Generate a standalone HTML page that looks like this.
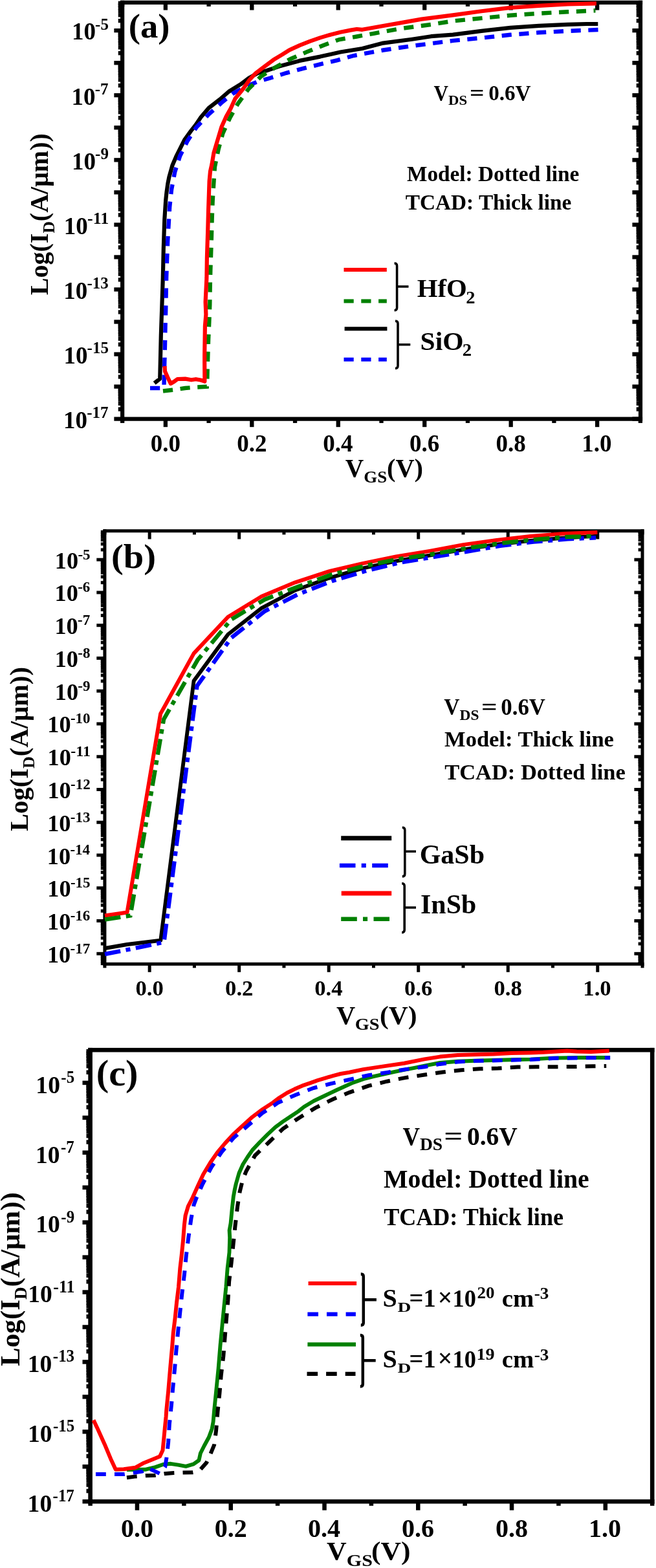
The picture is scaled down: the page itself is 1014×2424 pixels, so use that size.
<!DOCTYPE html>
<html><head><meta charset="utf-8"><style>html,body{margin:0;padding:0;background:#fff;}svg{display:block;}</style></head><body>
<svg width="1014" height="2424" viewBox="0 0 1014 2424" font-family="'Liberation Serif', serif" font-weight="bold">
<rect width="1014" height="2424" fill="#fff"/>
<rect x="186.00" y="649.75" width="6.30" height="4.20" fill="#000"/>
<rect x="186.00" y="6.00" width="6.30" height="4.00" fill="#000"/>
<rect x="252.72" y="649.75" width="6.30" height="10.40" fill="#000"/>
<rect x="252.72" y="6.00" width="6.30" height="9.60" fill="#000"/>
<rect x="319.45" y="649.75" width="6.30" height="4.20" fill="#000"/>
<rect x="319.45" y="6.00" width="6.30" height="4.00" fill="#000"/>
<rect x="386.18" y="649.75" width="6.30" height="10.40" fill="#000"/>
<rect x="386.18" y="6.00" width="6.30" height="9.60" fill="#000"/>
<rect x="452.90" y="649.75" width="6.30" height="4.20" fill="#000"/>
<rect x="452.90" y="6.00" width="6.30" height="4.00" fill="#000"/>
<rect x="519.62" y="649.75" width="6.30" height="10.40" fill="#000"/>
<rect x="519.62" y="6.00" width="6.30" height="9.60" fill="#000"/>
<rect x="586.35" y="649.75" width="6.30" height="4.20" fill="#000"/>
<rect x="586.35" y="6.00" width="6.30" height="4.00" fill="#000"/>
<rect x="653.08" y="649.75" width="6.30" height="10.40" fill="#000"/>
<rect x="653.08" y="6.00" width="6.30" height="9.60" fill="#000"/>
<rect x="719.80" y="649.75" width="6.30" height="4.20" fill="#000"/>
<rect x="719.80" y="6.00" width="6.30" height="4.00" fill="#000"/>
<rect x="786.52" y="649.75" width="6.30" height="10.40" fill="#000"/>
<rect x="786.52" y="6.00" width="6.30" height="9.60" fill="#000"/>
<rect x="853.25" y="649.75" width="6.30" height="4.20" fill="#000"/>
<rect x="853.25" y="6.00" width="6.30" height="4.00" fill="#000"/>
<rect x="919.98" y="649.75" width="6.30" height="10.40" fill="#000"/>
<rect x="919.98" y="6.00" width="6.30" height="9.60" fill="#000"/>
<rect x="986.70" y="649.75" width="6.30" height="4.20" fill="#000"/>
<rect x="986.70" y="6.00" width="6.30" height="4.00" fill="#000"/>
<rect x="176.35" y="644.50" width="10.70" height="6.25" fill="#000"/>
<rect x="977.40" y="644.50" width="10.50" height="6.25" fill="#000"/>
<rect x="182.75" y="629.44" width="4.30" height="6.30" fill="#000"/>
<rect x="983.70" y="629.44" width="4.20" height="6.30" fill="#000"/>
<rect x="182.75" y="620.62" width="4.30" height="6.30" fill="#000"/>
<rect x="983.70" y="620.62" width="4.20" height="6.30" fill="#000"/>
<rect x="182.75" y="614.37" width="4.30" height="6.30" fill="#000"/>
<rect x="983.70" y="614.37" width="4.20" height="6.30" fill="#000"/>
<rect x="182.75" y="609.52" width="4.30" height="6.30" fill="#000"/>
<rect x="983.70" y="609.52" width="4.20" height="6.30" fill="#000"/>
<rect x="182.75" y="605.56" width="4.30" height="6.30" fill="#000"/>
<rect x="983.70" y="605.56" width="4.20" height="6.30" fill="#000"/>
<rect x="182.75" y="602.21" width="4.30" height="6.30" fill="#000"/>
<rect x="983.70" y="602.21" width="4.20" height="6.30" fill="#000"/>
<rect x="182.75" y="599.31" width="4.30" height="6.30" fill="#000"/>
<rect x="983.70" y="599.31" width="4.20" height="6.30" fill="#000"/>
<rect x="182.75" y="596.75" width="4.30" height="6.30" fill="#000"/>
<rect x="983.70" y="596.75" width="4.20" height="6.30" fill="#000"/>
<rect x="176.35" y="594.46" width="10.70" height="6.30" fill="#000"/>
<rect x="977.40" y="594.46" width="10.50" height="6.30" fill="#000"/>
<rect x="182.75" y="579.40" width="4.30" height="6.30" fill="#000"/>
<rect x="983.70" y="579.40" width="4.20" height="6.30" fill="#000"/>
<rect x="182.75" y="570.58" width="4.30" height="6.30" fill="#000"/>
<rect x="983.70" y="570.58" width="4.20" height="6.30" fill="#000"/>
<rect x="182.75" y="564.33" width="4.30" height="6.30" fill="#000"/>
<rect x="983.70" y="564.33" width="4.20" height="6.30" fill="#000"/>
<rect x="182.75" y="559.48" width="4.30" height="6.30" fill="#000"/>
<rect x="983.70" y="559.48" width="4.20" height="6.30" fill="#000"/>
<rect x="182.75" y="555.52" width="4.30" height="6.30" fill="#000"/>
<rect x="983.70" y="555.52" width="4.20" height="6.30" fill="#000"/>
<rect x="182.75" y="552.17" width="4.30" height="6.30" fill="#000"/>
<rect x="983.70" y="552.17" width="4.20" height="6.30" fill="#000"/>
<rect x="182.75" y="549.27" width="4.30" height="6.30" fill="#000"/>
<rect x="983.70" y="549.27" width="4.20" height="6.30" fill="#000"/>
<rect x="182.75" y="546.71" width="4.30" height="6.30" fill="#000"/>
<rect x="983.70" y="546.71" width="4.20" height="6.30" fill="#000"/>
<rect x="176.35" y="544.42" width="10.70" height="6.30" fill="#000"/>
<rect x="977.40" y="544.42" width="10.50" height="6.30" fill="#000"/>
<rect x="182.75" y="529.36" width="4.30" height="6.30" fill="#000"/>
<rect x="983.70" y="529.36" width="4.20" height="6.30" fill="#000"/>
<rect x="182.75" y="520.54" width="4.30" height="6.30" fill="#000"/>
<rect x="983.70" y="520.54" width="4.20" height="6.30" fill="#000"/>
<rect x="182.75" y="514.29" width="4.30" height="6.30" fill="#000"/>
<rect x="983.70" y="514.29" width="4.20" height="6.30" fill="#000"/>
<rect x="182.75" y="509.44" width="4.30" height="6.30" fill="#000"/>
<rect x="983.70" y="509.44" width="4.20" height="6.30" fill="#000"/>
<rect x="182.75" y="505.48" width="4.30" height="6.30" fill="#000"/>
<rect x="983.70" y="505.48" width="4.20" height="6.30" fill="#000"/>
<rect x="182.75" y="502.13" width="4.30" height="6.30" fill="#000"/>
<rect x="983.70" y="502.13" width="4.20" height="6.30" fill="#000"/>
<rect x="182.75" y="499.23" width="4.30" height="6.30" fill="#000"/>
<rect x="983.70" y="499.23" width="4.20" height="6.30" fill="#000"/>
<rect x="182.75" y="496.67" width="4.30" height="6.30" fill="#000"/>
<rect x="983.70" y="496.67" width="4.20" height="6.30" fill="#000"/>
<rect x="176.35" y="494.38" width="10.70" height="6.30" fill="#000"/>
<rect x="977.40" y="494.38" width="10.50" height="6.30" fill="#000"/>
<rect x="182.75" y="479.32" width="4.30" height="6.30" fill="#000"/>
<rect x="983.70" y="479.32" width="4.20" height="6.30" fill="#000"/>
<rect x="182.75" y="470.50" width="4.30" height="6.30" fill="#000"/>
<rect x="983.70" y="470.50" width="4.20" height="6.30" fill="#000"/>
<rect x="182.75" y="464.25" width="4.30" height="6.30" fill="#000"/>
<rect x="983.70" y="464.25" width="4.20" height="6.30" fill="#000"/>
<rect x="182.75" y="459.40" width="4.30" height="6.30" fill="#000"/>
<rect x="983.70" y="459.40" width="4.20" height="6.30" fill="#000"/>
<rect x="182.75" y="455.44" width="4.30" height="6.30" fill="#000"/>
<rect x="983.70" y="455.44" width="4.20" height="6.30" fill="#000"/>
<rect x="182.75" y="452.09" width="4.30" height="6.30" fill="#000"/>
<rect x="983.70" y="452.09" width="4.20" height="6.30" fill="#000"/>
<rect x="182.75" y="449.19" width="4.30" height="6.30" fill="#000"/>
<rect x="983.70" y="449.19" width="4.20" height="6.30" fill="#000"/>
<rect x="182.75" y="446.63" width="4.30" height="6.30" fill="#000"/>
<rect x="983.70" y="446.63" width="4.20" height="6.30" fill="#000"/>
<rect x="176.35" y="444.34" width="10.70" height="6.30" fill="#000"/>
<rect x="977.40" y="444.34" width="10.50" height="6.30" fill="#000"/>
<rect x="182.75" y="429.28" width="4.30" height="6.30" fill="#000"/>
<rect x="983.70" y="429.28" width="4.20" height="6.30" fill="#000"/>
<rect x="182.75" y="420.46" width="4.30" height="6.30" fill="#000"/>
<rect x="983.70" y="420.46" width="4.20" height="6.30" fill="#000"/>
<rect x="182.75" y="414.21" width="4.30" height="6.30" fill="#000"/>
<rect x="983.70" y="414.21" width="4.20" height="6.30" fill="#000"/>
<rect x="182.75" y="409.36" width="4.30" height="6.30" fill="#000"/>
<rect x="983.70" y="409.36" width="4.20" height="6.30" fill="#000"/>
<rect x="182.75" y="405.40" width="4.30" height="6.30" fill="#000"/>
<rect x="983.70" y="405.40" width="4.20" height="6.30" fill="#000"/>
<rect x="182.75" y="402.05" width="4.30" height="6.30" fill="#000"/>
<rect x="983.70" y="402.05" width="4.20" height="6.30" fill="#000"/>
<rect x="182.75" y="399.15" width="4.30" height="6.30" fill="#000"/>
<rect x="983.70" y="399.15" width="4.20" height="6.30" fill="#000"/>
<rect x="182.75" y="396.59" width="4.30" height="6.30" fill="#000"/>
<rect x="983.70" y="396.59" width="4.20" height="6.30" fill="#000"/>
<rect x="176.35" y="394.30" width="10.70" height="6.30" fill="#000"/>
<rect x="977.40" y="394.30" width="10.50" height="6.30" fill="#000"/>
<rect x="182.75" y="379.24" width="4.30" height="6.30" fill="#000"/>
<rect x="983.70" y="379.24" width="4.20" height="6.30" fill="#000"/>
<rect x="182.75" y="370.42" width="4.30" height="6.30" fill="#000"/>
<rect x="983.70" y="370.42" width="4.20" height="6.30" fill="#000"/>
<rect x="182.75" y="364.17" width="4.30" height="6.30" fill="#000"/>
<rect x="983.70" y="364.17" width="4.20" height="6.30" fill="#000"/>
<rect x="182.75" y="359.32" width="4.30" height="6.30" fill="#000"/>
<rect x="983.70" y="359.32" width="4.20" height="6.30" fill="#000"/>
<rect x="182.75" y="355.36" width="4.30" height="6.30" fill="#000"/>
<rect x="983.70" y="355.36" width="4.20" height="6.30" fill="#000"/>
<rect x="182.75" y="352.01" width="4.30" height="6.30" fill="#000"/>
<rect x="983.70" y="352.01" width="4.20" height="6.30" fill="#000"/>
<rect x="182.75" y="349.11" width="4.30" height="6.30" fill="#000"/>
<rect x="983.70" y="349.11" width="4.20" height="6.30" fill="#000"/>
<rect x="182.75" y="346.55" width="4.30" height="6.30" fill="#000"/>
<rect x="983.70" y="346.55" width="4.20" height="6.30" fill="#000"/>
<rect x="176.35" y="344.26" width="10.70" height="6.30" fill="#000"/>
<rect x="977.40" y="344.26" width="10.50" height="6.30" fill="#000"/>
<rect x="182.75" y="329.20" width="4.30" height="6.30" fill="#000"/>
<rect x="983.70" y="329.20" width="4.20" height="6.30" fill="#000"/>
<rect x="182.75" y="320.38" width="4.30" height="6.30" fill="#000"/>
<rect x="983.70" y="320.38" width="4.20" height="6.30" fill="#000"/>
<rect x="182.75" y="314.13" width="4.30" height="6.30" fill="#000"/>
<rect x="983.70" y="314.13" width="4.20" height="6.30" fill="#000"/>
<rect x="182.75" y="309.28" width="4.30" height="6.30" fill="#000"/>
<rect x="983.70" y="309.28" width="4.20" height="6.30" fill="#000"/>
<rect x="182.75" y="305.32" width="4.30" height="6.30" fill="#000"/>
<rect x="983.70" y="305.32" width="4.20" height="6.30" fill="#000"/>
<rect x="182.75" y="301.97" width="4.30" height="6.30" fill="#000"/>
<rect x="983.70" y="301.97" width="4.20" height="6.30" fill="#000"/>
<rect x="182.75" y="299.07" width="4.30" height="6.30" fill="#000"/>
<rect x="983.70" y="299.07" width="4.20" height="6.30" fill="#000"/>
<rect x="182.75" y="296.51" width="4.30" height="6.30" fill="#000"/>
<rect x="983.70" y="296.51" width="4.20" height="6.30" fill="#000"/>
<rect x="176.35" y="294.22" width="10.70" height="6.30" fill="#000"/>
<rect x="977.40" y="294.22" width="10.50" height="6.30" fill="#000"/>
<rect x="182.75" y="279.16" width="4.30" height="6.30" fill="#000"/>
<rect x="983.70" y="279.16" width="4.20" height="6.30" fill="#000"/>
<rect x="182.75" y="270.34" width="4.30" height="6.30" fill="#000"/>
<rect x="983.70" y="270.34" width="4.20" height="6.30" fill="#000"/>
<rect x="182.75" y="264.09" width="4.30" height="6.30" fill="#000"/>
<rect x="983.70" y="264.09" width="4.20" height="6.30" fill="#000"/>
<rect x="182.75" y="259.24" width="4.30" height="6.30" fill="#000"/>
<rect x="983.70" y="259.24" width="4.20" height="6.30" fill="#000"/>
<rect x="182.75" y="255.28" width="4.30" height="6.30" fill="#000"/>
<rect x="983.70" y="255.28" width="4.20" height="6.30" fill="#000"/>
<rect x="182.75" y="251.93" width="4.30" height="6.30" fill="#000"/>
<rect x="983.70" y="251.93" width="4.20" height="6.30" fill="#000"/>
<rect x="182.75" y="249.03" width="4.30" height="6.30" fill="#000"/>
<rect x="983.70" y="249.03" width="4.20" height="6.30" fill="#000"/>
<rect x="182.75" y="246.47" width="4.30" height="6.30" fill="#000"/>
<rect x="983.70" y="246.47" width="4.20" height="6.30" fill="#000"/>
<rect x="176.35" y="244.18" width="10.70" height="6.30" fill="#000"/>
<rect x="977.40" y="244.18" width="10.50" height="6.30" fill="#000"/>
<rect x="182.75" y="229.12" width="4.30" height="6.30" fill="#000"/>
<rect x="983.70" y="229.12" width="4.20" height="6.30" fill="#000"/>
<rect x="182.75" y="220.30" width="4.30" height="6.30" fill="#000"/>
<rect x="983.70" y="220.30" width="4.20" height="6.30" fill="#000"/>
<rect x="182.75" y="214.05" width="4.30" height="6.30" fill="#000"/>
<rect x="983.70" y="214.05" width="4.20" height="6.30" fill="#000"/>
<rect x="182.75" y="209.20" width="4.30" height="6.30" fill="#000"/>
<rect x="983.70" y="209.20" width="4.20" height="6.30" fill="#000"/>
<rect x="182.75" y="205.24" width="4.30" height="6.30" fill="#000"/>
<rect x="983.70" y="205.24" width="4.20" height="6.30" fill="#000"/>
<rect x="182.75" y="201.89" width="4.30" height="6.30" fill="#000"/>
<rect x="983.70" y="201.89" width="4.20" height="6.30" fill="#000"/>
<rect x="182.75" y="198.99" width="4.30" height="6.30" fill="#000"/>
<rect x="983.70" y="198.99" width="4.20" height="6.30" fill="#000"/>
<rect x="182.75" y="196.43" width="4.30" height="6.30" fill="#000"/>
<rect x="983.70" y="196.43" width="4.20" height="6.30" fill="#000"/>
<rect x="176.35" y="194.14" width="10.70" height="6.30" fill="#000"/>
<rect x="977.40" y="194.14" width="10.50" height="6.30" fill="#000"/>
<rect x="182.75" y="179.08" width="4.30" height="6.30" fill="#000"/>
<rect x="983.70" y="179.08" width="4.20" height="6.30" fill="#000"/>
<rect x="182.75" y="170.26" width="4.30" height="6.30" fill="#000"/>
<rect x="983.70" y="170.26" width="4.20" height="6.30" fill="#000"/>
<rect x="182.75" y="164.01" width="4.30" height="6.30" fill="#000"/>
<rect x="983.70" y="164.01" width="4.20" height="6.30" fill="#000"/>
<rect x="182.75" y="159.16" width="4.30" height="6.30" fill="#000"/>
<rect x="983.70" y="159.16" width="4.20" height="6.30" fill="#000"/>
<rect x="182.75" y="155.20" width="4.30" height="6.30" fill="#000"/>
<rect x="983.70" y="155.20" width="4.20" height="6.30" fill="#000"/>
<rect x="182.75" y="151.85" width="4.30" height="6.30" fill="#000"/>
<rect x="983.70" y="151.85" width="4.20" height="6.30" fill="#000"/>
<rect x="182.75" y="148.95" width="4.30" height="6.30" fill="#000"/>
<rect x="983.70" y="148.95" width="4.20" height="6.30" fill="#000"/>
<rect x="182.75" y="146.39" width="4.30" height="6.30" fill="#000"/>
<rect x="983.70" y="146.39" width="4.20" height="6.30" fill="#000"/>
<rect x="176.35" y="144.10" width="10.70" height="6.30" fill="#000"/>
<rect x="977.40" y="144.10" width="10.50" height="6.30" fill="#000"/>
<rect x="182.75" y="129.04" width="4.30" height="6.30" fill="#000"/>
<rect x="983.70" y="129.04" width="4.20" height="6.30" fill="#000"/>
<rect x="182.75" y="120.22" width="4.30" height="6.30" fill="#000"/>
<rect x="983.70" y="120.22" width="4.20" height="6.30" fill="#000"/>
<rect x="182.75" y="113.97" width="4.30" height="6.30" fill="#000"/>
<rect x="983.70" y="113.97" width="4.20" height="6.30" fill="#000"/>
<rect x="182.75" y="109.12" width="4.30" height="6.30" fill="#000"/>
<rect x="983.70" y="109.12" width="4.20" height="6.30" fill="#000"/>
<rect x="182.75" y="105.16" width="4.30" height="6.30" fill="#000"/>
<rect x="983.70" y="105.16" width="4.20" height="6.30" fill="#000"/>
<rect x="182.75" y="101.81" width="4.30" height="6.30" fill="#000"/>
<rect x="983.70" y="101.81" width="4.20" height="6.30" fill="#000"/>
<rect x="182.75" y="98.91" width="4.30" height="6.30" fill="#000"/>
<rect x="983.70" y="98.91" width="4.20" height="6.30" fill="#000"/>
<rect x="182.75" y="96.35" width="4.30" height="6.30" fill="#000"/>
<rect x="983.70" y="96.35" width="4.20" height="6.30" fill="#000"/>
<rect x="176.35" y="94.06" width="10.70" height="6.30" fill="#000"/>
<rect x="977.40" y="94.06" width="10.50" height="6.30" fill="#000"/>
<rect x="182.75" y="79.00" width="4.30" height="6.30" fill="#000"/>
<rect x="983.70" y="79.00" width="4.20" height="6.30" fill="#000"/>
<rect x="182.75" y="70.18" width="4.30" height="6.30" fill="#000"/>
<rect x="983.70" y="70.18" width="4.20" height="6.30" fill="#000"/>
<rect x="182.75" y="63.93" width="4.30" height="6.30" fill="#000"/>
<rect x="983.70" y="63.93" width="4.20" height="6.30" fill="#000"/>
<rect x="182.75" y="59.08" width="4.30" height="6.30" fill="#000"/>
<rect x="983.70" y="59.08" width="4.20" height="6.30" fill="#000"/>
<rect x="182.75" y="55.12" width="4.30" height="6.30" fill="#000"/>
<rect x="983.70" y="55.12" width="4.20" height="6.30" fill="#000"/>
<rect x="182.75" y="51.77" width="4.30" height="6.30" fill="#000"/>
<rect x="983.70" y="51.77" width="4.20" height="6.30" fill="#000"/>
<rect x="182.75" y="48.87" width="4.30" height="6.30" fill="#000"/>
<rect x="983.70" y="48.87" width="4.20" height="6.30" fill="#000"/>
<rect x="182.75" y="46.31" width="4.30" height="6.30" fill="#000"/>
<rect x="983.70" y="46.31" width="4.20" height="6.30" fill="#000"/>
<rect x="176.35" y="44.02" width="10.70" height="6.30" fill="#000"/>
<rect x="977.40" y="44.02" width="10.50" height="6.30" fill="#000"/>
<rect x="182.75" y="28.96" width="4.30" height="6.30" fill="#000"/>
<rect x="983.70" y="28.96" width="4.20" height="6.30" fill="#000"/>
<rect x="182.75" y="20.14" width="4.30" height="6.30" fill="#000"/>
<rect x="983.70" y="20.14" width="4.20" height="6.30" fill="#000"/>
<rect x="182.75" y="13.89" width="4.30" height="6.30" fill="#000"/>
<rect x="983.70" y="13.89" width="4.20" height="6.30" fill="#000"/>
<rect x="182.75" y="9.04" width="4.30" height="6.30" fill="#000"/>
<rect x="983.70" y="9.04" width="4.20" height="6.30" fill="#000"/>
<rect x="182.75" y="5.08" width="4.30" height="6.30" fill="#000"/>
<rect x="983.70" y="5.08" width="4.20" height="6.30" fill="#000"/>
<rect x="182.75" y="1.73" width="4.30" height="6.30" fill="#000"/>
<rect x="983.70" y="1.73" width="4.20" height="6.30" fill="#000"/>
<rect x="186.05" y="0.80" width="6.20" height="649.95" fill="#000"/>
<rect x="986.90" y="0.80" width="6.20" height="649.95" fill="#000"/>
<rect x="186.05" y="0.80" width="807.05" height="6.20" fill="#000"/>
<rect x="186.05" y="644.55" width="807.05" height="6.20" fill="#000"/>
<path d="M238.7 592.3 L247.2 585.6 L247.4 578.0 L248.3 540.0 L248.8 518.8 L250.3 474.4 L251.8 430.0 L252.8 383.6 L254.3 339.2 L256.2 309.6 L257.5 297.2 L259.5 283.0 L261.4 273.6 L266.4 255.8 L272.3 242.0 L279.2 228.2 L285.1 216.4 L295.0 202.6 L302.8 192.7 L310.7 180.9 L322.6 167.0 L340.0 153.5 L353.8 141.5 L371.8 130.4 L385.6 120.1 L398.0 113.2 L411.8 109.2 L431.6 102.6 L463.1 93.9 L494.7 87.6 L526.2 80.5 L560.0 75.0 L592.3 66.6 L636.7 60.7 L666.3 56.2 L700.0 53.6 L744.4 47.9 L788.8 42.9 L833.1 39.9 L877.5 37.9 L907.0 37.0 L924.3 37.0" fill="none" stroke="#000000" stroke-width="6.20" stroke-linecap="butt" stroke-linejoin="round"/>
<path d="M232.0 600.0 L253.5 600.0 L253.7 585.0 L254.3 560.0 L255.0 533.0 L255.5 506.0 L256.2 480.0 L256.7 453.0 L257.2 428.0 L258.2 400.0 L259.2 373.0 L260.7 346.0 L262.2 320.0 L265.1 293.0 L270.3 265.7 L278.2 241.0 L290.0 217.4 L303.8 196.6 L323.5 175.9 L344.3 157.2 L360.7 144.2 L381.4 133.2 L398.0 126.3 L417.3 120.7 L442.6 112.8 L469.4 105.7 L494.7 99.4 L521.5 93.1 L546.7 86.0 L592.3 77.5 L636.7 71.0 L700.0 62.9 L744.4 58.6 L788.8 53.8 L833.1 50.3 L877.5 47.9 L926.3 45.9" fill="none" stroke="#0000ff" stroke-width="6.40" stroke-linecap="butt" stroke-linejoin="miter" stroke-dasharray="15.2 11.6"/>
<path d="M252.0 604.5 L267.3 602.7 L286.0 600.0 L305.0 598.5 L319.8 597.8 L320.4 585.0 L320.6 575.0 L321.3 551.0 L322.1 525.0 L323.3 498.0 L324.3 471.0 L324.7 444.0 L325.3 418.0 L326.2 391.0 L327.0 364.0 L327.7 337.0 L328.7 310.0 L330.2 285.0 L332.0 257.8 L337.8 230.2 L344.3 206.5 L355.1 182.8 L367.3 161.0 L384.2 137.5 L403.5 118.0 L425.4 104.2 L449.5 91.0 L474.0 80.4 L499.4 70.2 L524.7 61.0 L551.5 56.5 L577.5 51.8 L621.9 43.8 L666.3 37.9 L700.0 32.5 L744.4 28.1 L788.8 23.7 L833.1 20.7 L877.5 18.3 L920.4 16.3" fill="none" stroke="#008000" stroke-width="6.40" stroke-linecap="butt" stroke-linejoin="miter" stroke-dasharray="15.2 11.6"/>
<path d="M254.5 566.0 L255.0 574.0 L259.0 583.0 L263.8 593.0 L269.0 590.0 L274.4 586.0 L286.3 585.6 L295.7 587.3 L302.8 586.2 L310.0 587.5 L316.4 589.5 L316.2 560.0 L316.2 548.3 L316.9 504.0 L318.4 486.2 L317.6 467.0 L319.4 430.0 L319.9 398.3 L321.3 354.0 L322.1 324.4 L323.6 280.0 L325.0 265.0 L327.5 253.8 L330.5 236.1 L336.4 216.4 L342.3 196.6 L349.7 180.0 L356.6 167.7 L363.5 152.5 L375.9 137.3 L385.6 123.5 L395.2 113.2 L409.0 102.8 L422.8 92.4 L436.6 84.2 L447.3 77.3 L463.1 70.2 L478.9 63.9 L494.7 58.4 L510.5 53.7 L526.2 49.7 L542.0 46.6 L551.5 45.0 L560.0 45.8 L570.0 44.0 L592.3 40.0 L621.9 34.9 L651.5 29.6 L700.0 23.4 L744.4 17.2 L788.8 11.8 L833.1 8.9 L877.5 6.5 L921.9 5.3" fill="none" stroke="#ff0000" stroke-width="6.20" stroke-linecap="butt" stroke-linejoin="round"/>
<text x="147.09" y="45.97" font-size="25.00" textLength="20.83" lengthAdjust="spacingAndGlyphs">-5</text>
<text x="110.92" y="61.47" font-size="37.00" textLength="37.00" lengthAdjust="spacingAndGlyphs">10</text>
<text x="146.79" y="146.05" font-size="25.00" textLength="20.83" lengthAdjust="spacingAndGlyphs">-7</text>
<text x="110.61" y="161.55" font-size="37.00" textLength="37.00" lengthAdjust="spacingAndGlyphs">10</text>
<text x="147.08" y="246.13" font-size="25.00" textLength="20.83" lengthAdjust="spacingAndGlyphs">-9</text>
<text x="110.90" y="261.63" font-size="37.00" textLength="37.00" lengthAdjust="spacingAndGlyphs">10</text>
<text x="134.97" y="346.21" font-size="25.00" textLength="33.33" lengthAdjust="spacingAndGlyphs">-11</text>
<text x="98.79" y="361.71" font-size="37.00" textLength="37.00" lengthAdjust="spacingAndGlyphs">10</text>
<text x="134.53" y="446.29" font-size="25.00" textLength="33.33" lengthAdjust="spacingAndGlyphs">-13</text>
<text x="98.35" y="461.79" font-size="37.00" textLength="37.00" lengthAdjust="spacingAndGlyphs">10</text>
<text x="134.59" y="546.37" font-size="25.00" textLength="33.33" lengthAdjust="spacingAndGlyphs">-15</text>
<text x="98.42" y="561.87" font-size="37.00" textLength="37.00" lengthAdjust="spacingAndGlyphs">10</text>
<text x="134.29" y="646.45" font-size="25.00" textLength="33.33" lengthAdjust="spacingAndGlyphs">-17</text>
<text x="98.11" y="661.95" font-size="37.00" textLength="37.00" lengthAdjust="spacingAndGlyphs">10</text>
<text x="232.75" y="698.00" font-size="37.00">0.0</text>
<text x="366.29" y="698.00" font-size="37.00">0.2</text>
<text x="499.29" y="698.00" font-size="37.00">0.4</text>
<text x="632.94" y="698.00" font-size="37.00">0.6</text>
<text x="766.46" y="698.00" font-size="37.00">0.8</text>
<text x="899.22" y="698.00" font-size="37.00">1.0</text>
<g transform="translate(74.00 455.50) rotate(-90) scale(1.0004 1)">
<text x="-0.68" y="0" font-size="40.00">Log(I</text>
<text x="94.88" y="9.80" font-size="25.50">D</text>
<text x="113.30" y="0" font-size="40.00">(A/μm))</text>
</g>
<text x="533.76" y="737.00" font-size="40.00" textLength="28.49" lengthAdjust="spacingAndGlyphs">V</text>
<text x="562.29" y="746.00" font-size="24.50" textLength="35.85" lengthAdjust="spacingAndGlyphs">GS</text>
<text x="598.03" y="737.00" font-size="40.00" textLength="56.05" lengthAdjust="spacingAndGlyphs">(V)</text>
<text x="198.70" y="58.20" font-size="52.50" textLength="63.81" lengthAdjust="spacingAndGlyphs">(a)</text>
<text x="670.55" y="154.80" font-size="34.50" textLength="22.50" lengthAdjust="spacingAndGlyphs">V</text>
<text x="693.10" y="162.00" font-size="22.00" textLength="29.07" lengthAdjust="spacingAndGlyphs">DS</text>
<text x="725.93" y="154.80" font-size="34.50" textLength="22.56" lengthAdjust="spacingAndGlyphs">=</text>
<text x="755.14" y="154.80" font-size="34.50" textLength="65.33" lengthAdjust="spacingAndGlyphs">0.6V</text>
<text x="629.03" y="280.00" font-size="33.30" textLength="266.23" lengthAdjust="spacingAndGlyphs">Model: Dotted line</text>
<text x="626.68" y="323.60" font-size="33.30" textLength="256.68" lengthAdjust="spacingAndGlyphs">TCAD: Thick line</text>
<line x1="531.5" y1="417.0" x2="597.8" y2="417.0" stroke="#ff0000" stroke-width="6.00"/>
<line x1="531.5" y1="465.4" x2="597.8" y2="465.4" stroke="#008000" stroke-width="6.00" stroke-dasharray="15.2 11.6"/>
<line x1="532.6" y1="508.2" x2="598.4" y2="508.2" stroke="#000" stroke-width="6.00"/>
<line x1="531.5" y1="555.7" x2="597.8" y2="555.7" stroke="#0000ff" stroke-width="6.00" stroke-dasharray="15.2 11.6"/>
<path d="M609.6 407.0 Q613.6 407.0 613.6 411.0 L613.6 475.8 Q613.6 479.8 609.6 479.8 M613.6 443.0 L631.5 443.0" fill="none" stroke="#000" stroke-width="3.60" stroke-linecap="butt"/>
<path d="M611.0 496.3 Q615.0 496.3 615.0 500.3 L615.0 565.5 Q615.0 569.5 611.0 569.5 M615.0 532.8 L634.3 532.8" fill="none" stroke="#000" stroke-width="3.60" stroke-linecap="butt"/>
<text x="644.70" y="459.00" font-size="40.70" textLength="77.19" lengthAdjust="spacingAndGlyphs">HfO</text>
<text x="720.21" y="468.80" font-size="28.00" textLength="14.22" lengthAdjust="spacingAndGlyphs">2</text>
<text x="649.59" y="540.80" font-size="40.70" textLength="66.94" lengthAdjust="spacingAndGlyphs">SiO</text>
<text x="714.70" y="550.20" font-size="28.00" textLength="14.34" lengthAdjust="spacingAndGlyphs">2</text>
<rect x="159.40" y="1491.80" width="5.00" height="4.50" fill="#000"/>
<rect x="159.40" y="822.25" width="5.00" height="4.20" fill="#000"/>
<rect x="228.66" y="1491.80" width="5.00" height="11.00" fill="#000"/>
<rect x="228.66" y="822.25" width="5.00" height="11.20" fill="#000"/>
<rect x="297.92" y="1491.80" width="5.00" height="4.50" fill="#000"/>
<rect x="297.92" y="822.25" width="5.00" height="4.20" fill="#000"/>
<rect x="367.18" y="1491.80" width="5.00" height="11.00" fill="#000"/>
<rect x="367.18" y="822.25" width="5.00" height="11.20" fill="#000"/>
<rect x="436.44" y="1491.80" width="5.00" height="4.50" fill="#000"/>
<rect x="436.44" y="822.25" width="5.00" height="4.20" fill="#000"/>
<rect x="505.70" y="1491.80" width="5.00" height="11.00" fill="#000"/>
<rect x="505.70" y="822.25" width="5.00" height="11.20" fill="#000"/>
<rect x="574.96" y="1491.80" width="5.00" height="4.50" fill="#000"/>
<rect x="574.96" y="822.25" width="5.00" height="4.20" fill="#000"/>
<rect x="644.22" y="1491.80" width="5.00" height="11.00" fill="#000"/>
<rect x="644.22" y="822.25" width="5.00" height="11.20" fill="#000"/>
<rect x="713.48" y="1491.80" width="5.00" height="4.50" fill="#000"/>
<rect x="713.48" y="822.25" width="5.00" height="4.20" fill="#000"/>
<rect x="782.74" y="1491.80" width="5.00" height="11.00" fill="#000"/>
<rect x="782.74" y="822.25" width="5.00" height="11.20" fill="#000"/>
<rect x="852.00" y="1491.80" width="5.00" height="4.50" fill="#000"/>
<rect x="852.00" y="822.25" width="5.00" height="4.20" fill="#000"/>
<rect x="921.26" y="1491.80" width="5.00" height="11.00" fill="#000"/>
<rect x="921.26" y="822.25" width="5.00" height="11.20" fill="#000"/>
<rect x="990.52" y="1491.80" width="5.00" height="4.50" fill="#000"/>
<rect x="990.52" y="822.25" width="5.00" height="4.20" fill="#000"/>
<rect x="155.80" y="1487.08" width="4.60" height="5.00" fill="#000"/>
<rect x="986.60" y="1487.08" width="4.90" height="5.00" fill="#000"/>
<rect x="155.80" y="1483.06" width="4.60" height="5.00" fill="#000"/>
<rect x="986.60" y="1483.06" width="4.90" height="5.00" fill="#000"/>
<rect x="155.80" y="1479.66" width="4.60" height="5.00" fill="#000"/>
<rect x="986.60" y="1479.66" width="4.90" height="5.00" fill="#000"/>
<rect x="155.80" y="1476.72" width="4.60" height="5.00" fill="#000"/>
<rect x="986.60" y="1476.72" width="4.90" height="5.00" fill="#000"/>
<rect x="155.80" y="1474.12" width="4.60" height="5.00" fill="#000"/>
<rect x="986.60" y="1474.12" width="4.90" height="5.00" fill="#000"/>
<rect x="149.30" y="1471.80" width="11.10" height="5.00" fill="#000"/>
<rect x="980.40" y="1471.80" width="11.10" height="5.00" fill="#000"/>
<rect x="155.80" y="1456.52" width="4.60" height="5.00" fill="#000"/>
<rect x="986.60" y="1456.52" width="4.90" height="5.00" fill="#000"/>
<rect x="155.80" y="1447.58" width="4.60" height="5.00" fill="#000"/>
<rect x="986.60" y="1447.58" width="4.90" height="5.00" fill="#000"/>
<rect x="155.80" y="1441.24" width="4.60" height="5.00" fill="#000"/>
<rect x="986.60" y="1441.24" width="4.90" height="5.00" fill="#000"/>
<rect x="155.80" y="1436.32" width="4.60" height="5.00" fill="#000"/>
<rect x="986.60" y="1436.32" width="4.90" height="5.00" fill="#000"/>
<rect x="155.80" y="1432.30" width="4.60" height="5.00" fill="#000"/>
<rect x="986.60" y="1432.30" width="4.90" height="5.00" fill="#000"/>
<rect x="155.80" y="1428.90" width="4.60" height="5.00" fill="#000"/>
<rect x="986.60" y="1428.90" width="4.90" height="5.00" fill="#000"/>
<rect x="155.80" y="1425.96" width="4.60" height="5.00" fill="#000"/>
<rect x="986.60" y="1425.96" width="4.90" height="5.00" fill="#000"/>
<rect x="155.80" y="1423.36" width="4.60" height="5.00" fill="#000"/>
<rect x="986.60" y="1423.36" width="4.90" height="5.00" fill="#000"/>
<rect x="149.30" y="1421.04" width="11.10" height="5.00" fill="#000"/>
<rect x="980.40" y="1421.04" width="11.10" height="5.00" fill="#000"/>
<rect x="155.80" y="1405.76" width="4.60" height="5.00" fill="#000"/>
<rect x="986.60" y="1405.76" width="4.90" height="5.00" fill="#000"/>
<rect x="155.80" y="1396.82" width="4.60" height="5.00" fill="#000"/>
<rect x="986.60" y="1396.82" width="4.90" height="5.00" fill="#000"/>
<rect x="155.80" y="1390.48" width="4.60" height="5.00" fill="#000"/>
<rect x="986.60" y="1390.48" width="4.90" height="5.00" fill="#000"/>
<rect x="155.80" y="1385.56" width="4.60" height="5.00" fill="#000"/>
<rect x="986.60" y="1385.56" width="4.90" height="5.00" fill="#000"/>
<rect x="155.80" y="1381.54" width="4.60" height="5.00" fill="#000"/>
<rect x="986.60" y="1381.54" width="4.90" height="5.00" fill="#000"/>
<rect x="155.80" y="1378.14" width="4.60" height="5.00" fill="#000"/>
<rect x="986.60" y="1378.14" width="4.90" height="5.00" fill="#000"/>
<rect x="155.80" y="1375.20" width="4.60" height="5.00" fill="#000"/>
<rect x="986.60" y="1375.20" width="4.90" height="5.00" fill="#000"/>
<rect x="155.80" y="1372.60" width="4.60" height="5.00" fill="#000"/>
<rect x="986.60" y="1372.60" width="4.90" height="5.00" fill="#000"/>
<rect x="149.30" y="1370.28" width="11.10" height="5.00" fill="#000"/>
<rect x="980.40" y="1370.28" width="11.10" height="5.00" fill="#000"/>
<rect x="155.80" y="1355.00" width="4.60" height="5.00" fill="#000"/>
<rect x="986.60" y="1355.00" width="4.90" height="5.00" fill="#000"/>
<rect x="155.80" y="1346.06" width="4.60" height="5.00" fill="#000"/>
<rect x="986.60" y="1346.06" width="4.90" height="5.00" fill="#000"/>
<rect x="155.80" y="1339.72" width="4.60" height="5.00" fill="#000"/>
<rect x="986.60" y="1339.72" width="4.90" height="5.00" fill="#000"/>
<rect x="155.80" y="1334.80" width="4.60" height="5.00" fill="#000"/>
<rect x="986.60" y="1334.80" width="4.90" height="5.00" fill="#000"/>
<rect x="155.80" y="1330.78" width="4.60" height="5.00" fill="#000"/>
<rect x="986.60" y="1330.78" width="4.90" height="5.00" fill="#000"/>
<rect x="155.80" y="1327.38" width="4.60" height="5.00" fill="#000"/>
<rect x="986.60" y="1327.38" width="4.90" height="5.00" fill="#000"/>
<rect x="155.80" y="1324.44" width="4.60" height="5.00" fill="#000"/>
<rect x="986.60" y="1324.44" width="4.90" height="5.00" fill="#000"/>
<rect x="155.80" y="1321.84" width="4.60" height="5.00" fill="#000"/>
<rect x="986.60" y="1321.84" width="4.90" height="5.00" fill="#000"/>
<rect x="149.30" y="1319.52" width="11.10" height="5.00" fill="#000"/>
<rect x="980.40" y="1319.52" width="11.10" height="5.00" fill="#000"/>
<rect x="155.80" y="1304.24" width="4.60" height="5.00" fill="#000"/>
<rect x="986.60" y="1304.24" width="4.90" height="5.00" fill="#000"/>
<rect x="155.80" y="1295.30" width="4.60" height="5.00" fill="#000"/>
<rect x="986.60" y="1295.30" width="4.90" height="5.00" fill="#000"/>
<rect x="155.80" y="1288.96" width="4.60" height="5.00" fill="#000"/>
<rect x="986.60" y="1288.96" width="4.90" height="5.00" fill="#000"/>
<rect x="155.80" y="1284.04" width="4.60" height="5.00" fill="#000"/>
<rect x="986.60" y="1284.04" width="4.90" height="5.00" fill="#000"/>
<rect x="155.80" y="1280.02" width="4.60" height="5.00" fill="#000"/>
<rect x="986.60" y="1280.02" width="4.90" height="5.00" fill="#000"/>
<rect x="155.80" y="1276.62" width="4.60" height="5.00" fill="#000"/>
<rect x="986.60" y="1276.62" width="4.90" height="5.00" fill="#000"/>
<rect x="155.80" y="1273.68" width="4.60" height="5.00" fill="#000"/>
<rect x="986.60" y="1273.68" width="4.90" height="5.00" fill="#000"/>
<rect x="155.80" y="1271.08" width="4.60" height="5.00" fill="#000"/>
<rect x="986.60" y="1271.08" width="4.90" height="5.00" fill="#000"/>
<rect x="149.30" y="1268.76" width="11.10" height="5.00" fill="#000"/>
<rect x="980.40" y="1268.76" width="11.10" height="5.00" fill="#000"/>
<rect x="155.80" y="1253.48" width="4.60" height="5.00" fill="#000"/>
<rect x="986.60" y="1253.48" width="4.90" height="5.00" fill="#000"/>
<rect x="155.80" y="1244.54" width="4.60" height="5.00" fill="#000"/>
<rect x="986.60" y="1244.54" width="4.90" height="5.00" fill="#000"/>
<rect x="155.80" y="1238.20" width="4.60" height="5.00" fill="#000"/>
<rect x="986.60" y="1238.20" width="4.90" height="5.00" fill="#000"/>
<rect x="155.80" y="1233.28" width="4.60" height="5.00" fill="#000"/>
<rect x="986.60" y="1233.28" width="4.90" height="5.00" fill="#000"/>
<rect x="155.80" y="1229.26" width="4.60" height="5.00" fill="#000"/>
<rect x="986.60" y="1229.26" width="4.90" height="5.00" fill="#000"/>
<rect x="155.80" y="1225.86" width="4.60" height="5.00" fill="#000"/>
<rect x="986.60" y="1225.86" width="4.90" height="5.00" fill="#000"/>
<rect x="155.80" y="1222.92" width="4.60" height="5.00" fill="#000"/>
<rect x="986.60" y="1222.92" width="4.90" height="5.00" fill="#000"/>
<rect x="155.80" y="1220.32" width="4.60" height="5.00" fill="#000"/>
<rect x="986.60" y="1220.32" width="4.90" height="5.00" fill="#000"/>
<rect x="149.30" y="1218.00" width="11.10" height="5.00" fill="#000"/>
<rect x="980.40" y="1218.00" width="11.10" height="5.00" fill="#000"/>
<rect x="155.80" y="1202.72" width="4.60" height="5.00" fill="#000"/>
<rect x="986.60" y="1202.72" width="4.90" height="5.00" fill="#000"/>
<rect x="155.80" y="1193.78" width="4.60" height="5.00" fill="#000"/>
<rect x="986.60" y="1193.78" width="4.90" height="5.00" fill="#000"/>
<rect x="155.80" y="1187.44" width="4.60" height="5.00" fill="#000"/>
<rect x="986.60" y="1187.44" width="4.90" height="5.00" fill="#000"/>
<rect x="155.80" y="1182.52" width="4.60" height="5.00" fill="#000"/>
<rect x="986.60" y="1182.52" width="4.90" height="5.00" fill="#000"/>
<rect x="155.80" y="1178.50" width="4.60" height="5.00" fill="#000"/>
<rect x="986.60" y="1178.50" width="4.90" height="5.00" fill="#000"/>
<rect x="155.80" y="1175.10" width="4.60" height="5.00" fill="#000"/>
<rect x="986.60" y="1175.10" width="4.90" height="5.00" fill="#000"/>
<rect x="155.80" y="1172.16" width="4.60" height="5.00" fill="#000"/>
<rect x="986.60" y="1172.16" width="4.90" height="5.00" fill="#000"/>
<rect x="155.80" y="1169.56" width="4.60" height="5.00" fill="#000"/>
<rect x="986.60" y="1169.56" width="4.90" height="5.00" fill="#000"/>
<rect x="149.30" y="1167.24" width="11.10" height="5.00" fill="#000"/>
<rect x="980.40" y="1167.24" width="11.10" height="5.00" fill="#000"/>
<rect x="155.80" y="1151.96" width="4.60" height="5.00" fill="#000"/>
<rect x="986.60" y="1151.96" width="4.90" height="5.00" fill="#000"/>
<rect x="155.80" y="1143.02" width="4.60" height="5.00" fill="#000"/>
<rect x="986.60" y="1143.02" width="4.90" height="5.00" fill="#000"/>
<rect x="155.80" y="1136.68" width="4.60" height="5.00" fill="#000"/>
<rect x="986.60" y="1136.68" width="4.90" height="5.00" fill="#000"/>
<rect x="155.80" y="1131.76" width="4.60" height="5.00" fill="#000"/>
<rect x="986.60" y="1131.76" width="4.90" height="5.00" fill="#000"/>
<rect x="155.80" y="1127.74" width="4.60" height="5.00" fill="#000"/>
<rect x="986.60" y="1127.74" width="4.90" height="5.00" fill="#000"/>
<rect x="155.80" y="1124.34" width="4.60" height="5.00" fill="#000"/>
<rect x="986.60" y="1124.34" width="4.90" height="5.00" fill="#000"/>
<rect x="155.80" y="1121.40" width="4.60" height="5.00" fill="#000"/>
<rect x="986.60" y="1121.40" width="4.90" height="5.00" fill="#000"/>
<rect x="155.80" y="1118.80" width="4.60" height="5.00" fill="#000"/>
<rect x="986.60" y="1118.80" width="4.90" height="5.00" fill="#000"/>
<rect x="149.30" y="1116.48" width="11.10" height="5.00" fill="#000"/>
<rect x="980.40" y="1116.48" width="11.10" height="5.00" fill="#000"/>
<rect x="155.80" y="1101.20" width="4.60" height="5.00" fill="#000"/>
<rect x="986.60" y="1101.20" width="4.90" height="5.00" fill="#000"/>
<rect x="155.80" y="1092.26" width="4.60" height="5.00" fill="#000"/>
<rect x="986.60" y="1092.26" width="4.90" height="5.00" fill="#000"/>
<rect x="155.80" y="1085.92" width="4.60" height="5.00" fill="#000"/>
<rect x="986.60" y="1085.92" width="4.90" height="5.00" fill="#000"/>
<rect x="155.80" y="1081.00" width="4.60" height="5.00" fill="#000"/>
<rect x="986.60" y="1081.00" width="4.90" height="5.00" fill="#000"/>
<rect x="155.80" y="1076.98" width="4.60" height="5.00" fill="#000"/>
<rect x="986.60" y="1076.98" width="4.90" height="5.00" fill="#000"/>
<rect x="155.80" y="1073.58" width="4.60" height="5.00" fill="#000"/>
<rect x="986.60" y="1073.58" width="4.90" height="5.00" fill="#000"/>
<rect x="155.80" y="1070.64" width="4.60" height="5.00" fill="#000"/>
<rect x="986.60" y="1070.64" width="4.90" height="5.00" fill="#000"/>
<rect x="155.80" y="1068.04" width="4.60" height="5.00" fill="#000"/>
<rect x="986.60" y="1068.04" width="4.90" height="5.00" fill="#000"/>
<rect x="149.30" y="1065.72" width="11.10" height="5.00" fill="#000"/>
<rect x="980.40" y="1065.72" width="11.10" height="5.00" fill="#000"/>
<rect x="155.80" y="1050.44" width="4.60" height="5.00" fill="#000"/>
<rect x="986.60" y="1050.44" width="4.90" height="5.00" fill="#000"/>
<rect x="155.80" y="1041.50" width="4.60" height="5.00" fill="#000"/>
<rect x="986.60" y="1041.50" width="4.90" height="5.00" fill="#000"/>
<rect x="155.80" y="1035.16" width="4.60" height="5.00" fill="#000"/>
<rect x="986.60" y="1035.16" width="4.90" height="5.00" fill="#000"/>
<rect x="155.80" y="1030.24" width="4.60" height="5.00" fill="#000"/>
<rect x="986.60" y="1030.24" width="4.90" height="5.00" fill="#000"/>
<rect x="155.80" y="1026.22" width="4.60" height="5.00" fill="#000"/>
<rect x="986.60" y="1026.22" width="4.90" height="5.00" fill="#000"/>
<rect x="155.80" y="1022.82" width="4.60" height="5.00" fill="#000"/>
<rect x="986.60" y="1022.82" width="4.90" height="5.00" fill="#000"/>
<rect x="155.80" y="1019.88" width="4.60" height="5.00" fill="#000"/>
<rect x="986.60" y="1019.88" width="4.90" height="5.00" fill="#000"/>
<rect x="155.80" y="1017.28" width="4.60" height="5.00" fill="#000"/>
<rect x="986.60" y="1017.28" width="4.90" height="5.00" fill="#000"/>
<rect x="149.30" y="1014.96" width="11.10" height="5.00" fill="#000"/>
<rect x="980.40" y="1014.96" width="11.10" height="5.00" fill="#000"/>
<rect x="155.80" y="999.68" width="4.60" height="5.00" fill="#000"/>
<rect x="986.60" y="999.68" width="4.90" height="5.00" fill="#000"/>
<rect x="155.80" y="990.74" width="4.60" height="5.00" fill="#000"/>
<rect x="986.60" y="990.74" width="4.90" height="5.00" fill="#000"/>
<rect x="155.80" y="984.40" width="4.60" height="5.00" fill="#000"/>
<rect x="986.60" y="984.40" width="4.90" height="5.00" fill="#000"/>
<rect x="155.80" y="979.48" width="4.60" height="5.00" fill="#000"/>
<rect x="986.60" y="979.48" width="4.90" height="5.00" fill="#000"/>
<rect x="155.80" y="975.46" width="4.60" height="5.00" fill="#000"/>
<rect x="986.60" y="975.46" width="4.90" height="5.00" fill="#000"/>
<rect x="155.80" y="972.06" width="4.60" height="5.00" fill="#000"/>
<rect x="986.60" y="972.06" width="4.90" height="5.00" fill="#000"/>
<rect x="155.80" y="969.12" width="4.60" height="5.00" fill="#000"/>
<rect x="986.60" y="969.12" width="4.90" height="5.00" fill="#000"/>
<rect x="155.80" y="966.52" width="4.60" height="5.00" fill="#000"/>
<rect x="986.60" y="966.52" width="4.90" height="5.00" fill="#000"/>
<rect x="149.30" y="964.20" width="11.10" height="5.00" fill="#000"/>
<rect x="980.40" y="964.20" width="11.10" height="5.00" fill="#000"/>
<rect x="155.80" y="948.92" width="4.60" height="5.00" fill="#000"/>
<rect x="986.60" y="948.92" width="4.90" height="5.00" fill="#000"/>
<rect x="155.80" y="939.98" width="4.60" height="5.00" fill="#000"/>
<rect x="986.60" y="939.98" width="4.90" height="5.00" fill="#000"/>
<rect x="155.80" y="933.64" width="4.60" height="5.00" fill="#000"/>
<rect x="986.60" y="933.64" width="4.90" height="5.00" fill="#000"/>
<rect x="155.80" y="928.72" width="4.60" height="5.00" fill="#000"/>
<rect x="986.60" y="928.72" width="4.90" height="5.00" fill="#000"/>
<rect x="155.80" y="924.70" width="4.60" height="5.00" fill="#000"/>
<rect x="986.60" y="924.70" width="4.90" height="5.00" fill="#000"/>
<rect x="155.80" y="921.30" width="4.60" height="5.00" fill="#000"/>
<rect x="986.60" y="921.30" width="4.90" height="5.00" fill="#000"/>
<rect x="155.80" y="918.36" width="4.60" height="5.00" fill="#000"/>
<rect x="986.60" y="918.36" width="4.90" height="5.00" fill="#000"/>
<rect x="155.80" y="915.76" width="4.60" height="5.00" fill="#000"/>
<rect x="986.60" y="915.76" width="4.90" height="5.00" fill="#000"/>
<rect x="149.30" y="913.44" width="11.10" height="5.00" fill="#000"/>
<rect x="980.40" y="913.44" width="11.10" height="5.00" fill="#000"/>
<rect x="155.80" y="898.16" width="4.60" height="5.00" fill="#000"/>
<rect x="986.60" y="898.16" width="4.90" height="5.00" fill="#000"/>
<rect x="155.80" y="889.22" width="4.60" height="5.00" fill="#000"/>
<rect x="986.60" y="889.22" width="4.90" height="5.00" fill="#000"/>
<rect x="155.80" y="882.88" width="4.60" height="5.00" fill="#000"/>
<rect x="986.60" y="882.88" width="4.90" height="5.00" fill="#000"/>
<rect x="155.80" y="877.96" width="4.60" height="5.00" fill="#000"/>
<rect x="986.60" y="877.96" width="4.90" height="5.00" fill="#000"/>
<rect x="155.80" y="873.94" width="4.60" height="5.00" fill="#000"/>
<rect x="986.60" y="873.94" width="4.90" height="5.00" fill="#000"/>
<rect x="155.80" y="870.54" width="4.60" height="5.00" fill="#000"/>
<rect x="986.60" y="870.54" width="4.90" height="5.00" fill="#000"/>
<rect x="155.80" y="867.60" width="4.60" height="5.00" fill="#000"/>
<rect x="986.60" y="867.60" width="4.90" height="5.00" fill="#000"/>
<rect x="155.80" y="865.00" width="4.60" height="5.00" fill="#000"/>
<rect x="986.60" y="865.00" width="4.90" height="5.00" fill="#000"/>
<rect x="149.30" y="862.68" width="11.10" height="5.00" fill="#000"/>
<rect x="980.40" y="862.68" width="11.10" height="5.00" fill="#000"/>
<rect x="155.80" y="847.40" width="4.60" height="5.00" fill="#000"/>
<rect x="986.60" y="847.40" width="4.90" height="5.00" fill="#000"/>
<rect x="155.80" y="838.46" width="4.60" height="5.00" fill="#000"/>
<rect x="986.60" y="838.46" width="4.90" height="5.00" fill="#000"/>
<rect x="155.80" y="832.12" width="4.60" height="5.00" fill="#000"/>
<rect x="986.60" y="832.12" width="4.90" height="5.00" fill="#000"/>
<rect x="155.80" y="827.20" width="4.60" height="5.00" fill="#000"/>
<rect x="986.60" y="827.20" width="4.90" height="5.00" fill="#000"/>
<rect x="155.80" y="823.18" width="4.60" height="5.00" fill="#000"/>
<rect x="986.60" y="823.18" width="4.90" height="5.00" fill="#000"/>
<rect x="155.80" y="819.78" width="4.60" height="5.00" fill="#000"/>
<rect x="986.60" y="819.78" width="4.90" height="5.00" fill="#000"/>
<rect x="159.40" y="818.25" width="5.00" height="674.55" fill="#000"/>
<rect x="990.50" y="818.25" width="5.00" height="674.55" fill="#000"/>
<rect x="159.40" y="818.25" width="836.10" height="5.00" fill="#000"/>
<rect x="159.40" y="1487.80" width="836.10" height="5.00" fill="#000"/>
<path d="M162.0 1466.0 L196.5 1460.0 L248.3 1453.8 L299.6 1052.4 L352.4 980.8 L404.3 940.1 L456.3 912.5 L508.2 893.8 L560.1 878.6 L612.1 867.3 L664.0 858.7 L716.0 849.6 L767.9 841.7 L819.9 835.9 L871.8 831.6 L923.4 828.6" fill="none" stroke="#000000" stroke-width="5.90" stroke-linecap="butt" stroke-linejoin="round"/>
<path d="M162.0 1475.0 L201.5 1467.3 L253.5 1456.5 L304.5 1060.5 L357.4 986.1 L409.3 944.8 L461.3 918.5 L513.2 898.2 L565.1 882.8 L617.1 869.9 L669.0 861.2 L721.0 852.8 L772.9 843.8 L824.9 837.6 L876.8 833.4 L921.0 831.3" fill="none" stroke="#0000ff" stroke-width="6.40" stroke-linecap="butt" stroke-linejoin="miter" stroke-dasharray="24.6 8.5 7.1 8.5"/>
<path d="M162.0 1415.5 L196.5 1410.5 L248.1 1103.4 L299.6 1010.1 L352.4 953.7 L404.3 922.0 L456.3 900.3 L508.2 883.3 L560.1 871.1 L612.1 860.5 L664.0 851.9 L716.0 842.1 L767.9 834.9 L819.9 829.1 L871.8 825.1 L923.4 823.0" fill="none" stroke="#ff0000" stroke-width="6.00" stroke-linecap="butt" stroke-linejoin="round"/>
<path d="M162.0 1421.5 L201.5 1415.5 L253.1 1112.0 L305.4 1020.3 L357.4 957.7 L409.3 926.7 L461.3 906.7 L513.2 888.1 L565.1 874.5 L617.1 864.2 L669.0 856.5 L721.0 847.6 L772.9 839.9 L824.9 834.2 L876.8 830.0 L921.0 828.7" fill="none" stroke="#008000" stroke-width="6.40" stroke-linecap="butt" stroke-linejoin="miter" stroke-dasharray="24.6 8.5 7.1 8.5"/>
<text x="120.38" y="864.58" font-size="23.00" textLength="19.16" lengthAdjust="spacingAndGlyphs">-5</text>
<text x="84.78" y="878.68" font-size="35.00" textLength="36.22" lengthAdjust="spacingAndGlyphs">10</text>
<text x="120.21" y="915.34" font-size="23.00" textLength="19.16" lengthAdjust="spacingAndGlyphs">-6</text>
<text x="84.61" y="929.44" font-size="35.00" textLength="36.22" lengthAdjust="spacingAndGlyphs">10</text>
<text x="120.10" y="966.10" font-size="23.00" textLength="19.16" lengthAdjust="spacingAndGlyphs">-7</text>
<text x="84.50" y="980.20" font-size="35.00" textLength="36.22" lengthAdjust="spacingAndGlyphs">10</text>
<text x="120.30" y="1016.86" font-size="23.00" textLength="19.16" lengthAdjust="spacingAndGlyphs">-8</text>
<text x="84.70" y="1030.96" font-size="35.00" textLength="36.22" lengthAdjust="spacingAndGlyphs">10</text>
<text x="120.37" y="1067.62" font-size="23.00" textLength="19.16" lengthAdjust="spacingAndGlyphs">-9</text>
<text x="84.77" y="1081.72" font-size="35.00" textLength="36.22" lengthAdjust="spacingAndGlyphs">10</text>
<text x="108.92" y="1118.38" font-size="23.00" textLength="30.66" lengthAdjust="spacingAndGlyphs">-10</text>
<text x="73.31" y="1132.48" font-size="35.00" textLength="36.22" lengthAdjust="spacingAndGlyphs">10</text>
<text x="109.23" y="1169.14" font-size="23.00" textLength="30.66" lengthAdjust="spacingAndGlyphs">-11</text>
<text x="73.63" y="1183.24" font-size="35.00" textLength="36.22" lengthAdjust="spacingAndGlyphs">10</text>
<text x="109.03" y="1219.90" font-size="23.00" textLength="30.66" lengthAdjust="spacingAndGlyphs">-12</text>
<text x="73.43" y="1234.00" font-size="35.00" textLength="36.22" lengthAdjust="spacingAndGlyphs">10</text>
<text x="108.83" y="1270.66" font-size="23.00" textLength="30.66" lengthAdjust="spacingAndGlyphs">-13</text>
<text x="73.22" y="1284.76" font-size="35.00" textLength="36.22" lengthAdjust="spacingAndGlyphs">10</text>
<text x="108.47" y="1321.42" font-size="23.00" textLength="30.66" lengthAdjust="spacingAndGlyphs">-14</text>
<text x="72.86" y="1335.52" font-size="35.00" textLength="36.22" lengthAdjust="spacingAndGlyphs">10</text>
<text x="108.88" y="1372.18" font-size="23.00" textLength="30.66" lengthAdjust="spacingAndGlyphs">-15</text>
<text x="73.28" y="1386.28" font-size="35.00" textLength="36.22" lengthAdjust="spacingAndGlyphs">10</text>
<text x="108.71" y="1422.94" font-size="23.00" textLength="30.66" lengthAdjust="spacingAndGlyphs">-16</text>
<text x="73.11" y="1437.04" font-size="35.00" textLength="36.22" lengthAdjust="spacingAndGlyphs">10</text>
<text x="108.60" y="1473.70" font-size="23.00" textLength="30.66" lengthAdjust="spacingAndGlyphs">-17</text>
<text x="73.00" y="1487.80" font-size="35.00" textLength="36.22" lengthAdjust="spacingAndGlyphs">10</text>
<text x="209.47" y="1539.40" font-size="34.70">0.0</text>
<text x="348.08" y="1539.40" font-size="34.70">0.2</text>
<text x="486.17" y="1539.40" font-size="34.70">0.4</text>
<text x="624.88" y="1539.40" font-size="34.70">0.6</text>
<text x="763.47" y="1539.40" font-size="34.70">0.8</text>
<text x="901.34" y="1539.40" font-size="34.70">1.0</text>
<g transform="translate(42.90 1284.30) rotate(-90) scale(0.9985 1)">
<text x="-0.70" y="0" font-size="40.70">Log(I</text>
<text x="96.54" y="10.00" font-size="26.00">D</text>
<text x="115.32" y="0" font-size="40.70">(A/μm))</text>
</g>
<text x="520.05" y="1582.60" font-size="41.00" textLength="29.21" lengthAdjust="spacingAndGlyphs">V</text>
<text x="548.82" y="1592.30" font-size="24.70" textLength="37.79" lengthAdjust="spacingAndGlyphs">GS</text>
<text x="587.08" y="1582.60" font-size="41.00" textLength="57.44" lengthAdjust="spacingAndGlyphs">(V)</text>
<text x="172.02" y="877.90" font-size="53.00" textLength="69.07" lengthAdjust="spacingAndGlyphs">(b)</text>
<text x="686.32" y="1104.80" font-size="35.00" textLength="24.25" lengthAdjust="spacingAndGlyphs">V</text>
<text x="710.59" y="1112.50" font-size="23.00" textLength="29.91" lengthAdjust="spacingAndGlyphs">DS</text>
<text x="744.05" y="1104.80" font-size="35.00" textLength="24.64" lengthAdjust="spacingAndGlyphs">=</text>
<text x="774.27" y="1104.80" font-size="35.00" textLength="68.72" lengthAdjust="spacingAndGlyphs">0.6V</text>
<text x="687.11" y="1154.40" font-size="34.40" textLength="261.78" lengthAdjust="spacingAndGlyphs">Model: Thick line</text>
<text x="687.16" y="1204.80" font-size="34.50" textLength="279.63" lengthAdjust="spacingAndGlyphs">TCAD: Dotted line</text>
<line x1="527.2" y1="1295.7" x2="605.2" y2="1295.7" stroke="#000" stroke-width="6.90"/>
<line x1="524.9" y1="1338.0" x2="600.1" y2="1338.0" stroke="#0000ff" stroke-width="6.40" stroke-dasharray="24.6 9.2 7.1 9.4"/>
<line x1="527.7" y1="1381.0" x2="605.2" y2="1381.0" stroke="#ff0000" stroke-width="6.90"/>
<line x1="527.2" y1="1420.7" x2="602.0" y2="1420.7" stroke="#008000" stroke-width="6.40" stroke-dasharray="24.6 9.2 7.1 9.4"/>
<path d="M621.8 1279.2 Q625.8 1279.2 625.8 1283.2 L625.8 1350.9 Q625.8 1354.9 621.8 1354.9 M625.8 1316.3 L643.0 1316.3" fill="none" stroke="#000" stroke-width="3.60" stroke-linecap="butt"/>
<path d="M621.2 1365.8 Q625.2 1365.8 625.2 1369.8 L625.2 1437.6 Q625.2 1441.6 621.2 1441.6 M625.2 1403.0 L643.0 1403.0" fill="none" stroke="#000" stroke-width="3.60" stroke-linecap="butt"/>
<text x="648.65" y="1335.20" font-size="42.00" textLength="100.35" lengthAdjust="spacingAndGlyphs">GaSb</text>
<text x="650.09" y="1412.40" font-size="42.00" textLength="86.11" lengthAdjust="spacingAndGlyphs">InSb</text>
<rect x="136.35" y="2323.50" width="6.50" height="4.30" fill="#000"/>
<rect x="208.73" y="2323.50" width="6.50" height="11.20" fill="#000"/>
<rect x="281.11" y="2323.50" width="6.50" height="4.30" fill="#000"/>
<rect x="353.49" y="2323.50" width="6.50" height="11.20" fill="#000"/>
<rect x="425.87" y="2323.50" width="6.50" height="4.30" fill="#000"/>
<rect x="498.25" y="2323.50" width="6.50" height="11.20" fill="#000"/>
<rect x="570.63" y="2323.50" width="6.50" height="4.30" fill="#000"/>
<rect x="643.01" y="2323.50" width="6.50" height="11.20" fill="#000"/>
<rect x="715.39" y="2323.50" width="6.50" height="4.30" fill="#000"/>
<rect x="787.77" y="2323.50" width="6.50" height="11.20" fill="#000"/>
<rect x="860.15" y="2323.50" width="6.50" height="4.30" fill="#000"/>
<rect x="932.53" y="2323.50" width="6.50" height="11.20" fill="#000"/>
<rect x="1004.91" y="2323.50" width="6.50" height="4.30" fill="#000"/>
<rect x="127.50" y="2317.95" width="9.80" height="6.50" fill="#000"/>
<rect x="133.50" y="2301.71" width="3.80" height="6.50" fill="#000"/>
<rect x="133.50" y="2292.21" width="3.80" height="6.50" fill="#000"/>
<rect x="133.50" y="2285.47" width="3.80" height="6.50" fill="#000"/>
<rect x="133.50" y="2280.25" width="3.80" height="6.50" fill="#000"/>
<rect x="133.50" y="2275.98" width="3.80" height="6.50" fill="#000"/>
<rect x="133.50" y="2272.37" width="3.80" height="6.50" fill="#000"/>
<rect x="133.50" y="2269.24" width="3.80" height="6.50" fill="#000"/>
<rect x="133.50" y="2266.48" width="3.80" height="6.50" fill="#000"/>
<rect x="127.50" y="2264.01" width="9.80" height="6.50" fill="#000"/>
<rect x="133.50" y="2247.77" width="3.80" height="6.50" fill="#000"/>
<rect x="133.50" y="2238.27" width="3.80" height="6.50" fill="#000"/>
<rect x="133.50" y="2231.53" width="3.80" height="6.50" fill="#000"/>
<rect x="133.50" y="2226.31" width="3.80" height="6.50" fill="#000"/>
<rect x="133.50" y="2222.04" width="3.80" height="6.50" fill="#000"/>
<rect x="133.50" y="2218.43" width="3.80" height="6.50" fill="#000"/>
<rect x="133.50" y="2215.30" width="3.80" height="6.50" fill="#000"/>
<rect x="133.50" y="2212.54" width="3.80" height="6.50" fill="#000"/>
<rect x="127.50" y="2210.07" width="9.80" height="6.50" fill="#000"/>
<rect x="133.50" y="2193.83" width="3.80" height="6.50" fill="#000"/>
<rect x="133.50" y="2184.33" width="3.80" height="6.50" fill="#000"/>
<rect x="133.50" y="2177.59" width="3.80" height="6.50" fill="#000"/>
<rect x="133.50" y="2172.37" width="3.80" height="6.50" fill="#000"/>
<rect x="133.50" y="2168.10" width="3.80" height="6.50" fill="#000"/>
<rect x="133.50" y="2164.49" width="3.80" height="6.50" fill="#000"/>
<rect x="133.50" y="2161.36" width="3.80" height="6.50" fill="#000"/>
<rect x="133.50" y="2158.60" width="3.80" height="6.50" fill="#000"/>
<rect x="127.50" y="2156.13" width="9.80" height="6.50" fill="#000"/>
<rect x="133.50" y="2139.89" width="3.80" height="6.50" fill="#000"/>
<rect x="133.50" y="2130.39" width="3.80" height="6.50" fill="#000"/>
<rect x="133.50" y="2123.65" width="3.80" height="6.50" fill="#000"/>
<rect x="133.50" y="2118.43" width="3.80" height="6.50" fill="#000"/>
<rect x="133.50" y="2114.16" width="3.80" height="6.50" fill="#000"/>
<rect x="133.50" y="2110.55" width="3.80" height="6.50" fill="#000"/>
<rect x="133.50" y="2107.42" width="3.80" height="6.50" fill="#000"/>
<rect x="133.50" y="2104.66" width="3.80" height="6.50" fill="#000"/>
<rect x="127.50" y="2102.19" width="9.80" height="6.50" fill="#000"/>
<rect x="133.50" y="2085.95" width="3.80" height="6.50" fill="#000"/>
<rect x="133.50" y="2076.45" width="3.80" height="6.50" fill="#000"/>
<rect x="133.50" y="2069.71" width="3.80" height="6.50" fill="#000"/>
<rect x="133.50" y="2064.49" width="3.80" height="6.50" fill="#000"/>
<rect x="133.50" y="2060.22" width="3.80" height="6.50" fill="#000"/>
<rect x="133.50" y="2056.61" width="3.80" height="6.50" fill="#000"/>
<rect x="133.50" y="2053.48" width="3.80" height="6.50" fill="#000"/>
<rect x="133.50" y="2050.72" width="3.80" height="6.50" fill="#000"/>
<rect x="127.50" y="2048.25" width="9.80" height="6.50" fill="#000"/>
<rect x="133.50" y="2032.01" width="3.80" height="6.50" fill="#000"/>
<rect x="133.50" y="2022.51" width="3.80" height="6.50" fill="#000"/>
<rect x="133.50" y="2015.77" width="3.80" height="6.50" fill="#000"/>
<rect x="133.50" y="2010.55" width="3.80" height="6.50" fill="#000"/>
<rect x="133.50" y="2006.28" width="3.80" height="6.50" fill="#000"/>
<rect x="133.50" y="2002.67" width="3.80" height="6.50" fill="#000"/>
<rect x="133.50" y="1999.54" width="3.80" height="6.50" fill="#000"/>
<rect x="133.50" y="1996.78" width="3.80" height="6.50" fill="#000"/>
<rect x="127.50" y="1994.31" width="9.80" height="6.50" fill="#000"/>
<rect x="133.50" y="1978.07" width="3.80" height="6.50" fill="#000"/>
<rect x="133.50" y="1968.57" width="3.80" height="6.50" fill="#000"/>
<rect x="133.50" y="1961.83" width="3.80" height="6.50" fill="#000"/>
<rect x="133.50" y="1956.61" width="3.80" height="6.50" fill="#000"/>
<rect x="133.50" y="1952.34" width="3.80" height="6.50" fill="#000"/>
<rect x="133.50" y="1948.73" width="3.80" height="6.50" fill="#000"/>
<rect x="133.50" y="1945.60" width="3.80" height="6.50" fill="#000"/>
<rect x="133.50" y="1942.84" width="3.80" height="6.50" fill="#000"/>
<rect x="127.50" y="1940.37" width="9.80" height="6.50" fill="#000"/>
<rect x="133.50" y="1924.13" width="3.80" height="6.50" fill="#000"/>
<rect x="133.50" y="1914.63" width="3.80" height="6.50" fill="#000"/>
<rect x="133.50" y="1907.89" width="3.80" height="6.50" fill="#000"/>
<rect x="133.50" y="1902.67" width="3.80" height="6.50" fill="#000"/>
<rect x="133.50" y="1898.40" width="3.80" height="6.50" fill="#000"/>
<rect x="133.50" y="1894.79" width="3.80" height="6.50" fill="#000"/>
<rect x="133.50" y="1891.66" width="3.80" height="6.50" fill="#000"/>
<rect x="133.50" y="1888.90" width="3.80" height="6.50" fill="#000"/>
<rect x="127.50" y="1886.43" width="9.80" height="6.50" fill="#000"/>
<rect x="133.50" y="1870.19" width="3.80" height="6.50" fill="#000"/>
<rect x="133.50" y="1860.69" width="3.80" height="6.50" fill="#000"/>
<rect x="133.50" y="1853.95" width="3.80" height="6.50" fill="#000"/>
<rect x="133.50" y="1848.73" width="3.80" height="6.50" fill="#000"/>
<rect x="133.50" y="1844.46" width="3.80" height="6.50" fill="#000"/>
<rect x="133.50" y="1840.85" width="3.80" height="6.50" fill="#000"/>
<rect x="133.50" y="1837.72" width="3.80" height="6.50" fill="#000"/>
<rect x="133.50" y="1834.96" width="3.80" height="6.50" fill="#000"/>
<rect x="127.50" y="1832.49" width="9.80" height="6.50" fill="#000"/>
<rect x="133.50" y="1816.25" width="3.80" height="6.50" fill="#000"/>
<rect x="133.50" y="1806.75" width="3.80" height="6.50" fill="#000"/>
<rect x="133.50" y="1800.01" width="3.80" height="6.50" fill="#000"/>
<rect x="133.50" y="1794.79" width="3.80" height="6.50" fill="#000"/>
<rect x="133.50" y="1790.52" width="3.80" height="6.50" fill="#000"/>
<rect x="133.50" y="1786.91" width="3.80" height="6.50" fill="#000"/>
<rect x="133.50" y="1783.78" width="3.80" height="6.50" fill="#000"/>
<rect x="133.50" y="1781.02" width="3.80" height="6.50" fill="#000"/>
<rect x="127.50" y="1778.55" width="9.80" height="6.50" fill="#000"/>
<rect x="133.50" y="1762.31" width="3.80" height="6.50" fill="#000"/>
<rect x="133.50" y="1752.81" width="3.80" height="6.50" fill="#000"/>
<rect x="133.50" y="1746.07" width="3.80" height="6.50" fill="#000"/>
<rect x="133.50" y="1740.85" width="3.80" height="6.50" fill="#000"/>
<rect x="133.50" y="1736.58" width="3.80" height="6.50" fill="#000"/>
<rect x="133.50" y="1732.97" width="3.80" height="6.50" fill="#000"/>
<rect x="133.50" y="1729.84" width="3.80" height="6.50" fill="#000"/>
<rect x="133.50" y="1727.08" width="3.80" height="6.50" fill="#000"/>
<rect x="127.50" y="1724.61" width="9.80" height="6.50" fill="#000"/>
<rect x="133.50" y="1708.37" width="3.80" height="6.50" fill="#000"/>
<rect x="133.50" y="1698.87" width="3.80" height="6.50" fill="#000"/>
<rect x="133.50" y="1692.13" width="3.80" height="6.50" fill="#000"/>
<rect x="133.50" y="1686.91" width="3.80" height="6.50" fill="#000"/>
<rect x="133.50" y="1682.64" width="3.80" height="6.50" fill="#000"/>
<rect x="133.50" y="1679.03" width="3.80" height="6.50" fill="#000"/>
<rect x="133.50" y="1675.90" width="3.80" height="6.50" fill="#000"/>
<rect x="133.50" y="1673.14" width="3.80" height="6.50" fill="#000"/>
<rect x="127.50" y="1670.67" width="9.80" height="6.50" fill="#000"/>
<rect x="133.50" y="1654.43" width="3.80" height="6.50" fill="#000"/>
<rect x="133.50" y="1644.93" width="3.80" height="6.50" fill="#000"/>
<rect x="133.50" y="1638.19" width="3.80" height="6.50" fill="#000"/>
<rect x="133.50" y="1632.97" width="3.80" height="6.50" fill="#000"/>
<rect x="133.50" y="1628.70" width="3.80" height="6.50" fill="#000"/>
<rect x="133.50" y="1625.09" width="3.80" height="6.50" fill="#000"/>
<rect x="133.50" y="1621.96" width="3.80" height="6.50" fill="#000"/>
<rect x="136.30" y="1619.90" width="6.60" height="704.60" fill="#000"/>
<rect x="1004.90" y="1619.90" width="6.60" height="704.60" fill="#000"/>
<rect x="136.30" y="1619.90" width="875.20" height="6.60" fill="#000"/>
<rect x="136.30" y="2317.90" width="875.20" height="6.60" fill="#000"/>
<path d="M196.0 2272.0 L224.4 2271.8 L240.0 2268.1 L251.8 2264.0 L263.7 2262.8 L275.5 2264.6 L287.3 2266.9 L299.2 2263.4 L307.5 2257.5 L309.8 2246.8 L315.7 2235.0 L322.8 2222.0 L327.6 2208.9 L329.6 2198.0 L331.1 2180.6 L334.1 2151.0 L337.6 2115.5 L340.5 2080.0 L343.5 2048.8 L346.4 2019.2 L349.4 1989.6 L351.7 1960.0 L354.5 1936.0 L355.2 1913.0 L354.6 1902.0 L356.6 1891.0 L358.6 1870.0 L360.8 1850.0 L362.6 1840.0 L364.8 1830.0 L369.5 1813.5 L375.5 1800.0 L382.6 1788.7 L390.0 1778.1 L401.8 1765.5 L413.7 1753.6 L425.5 1742.6 L437.3 1733.9 L449.2 1726.0 L461.0 1718.1 L470.0 1711.0 L485.0 1702.0 L502.8 1693.5 L520.6 1685.0 L530.0 1680.7 L545.8 1673.6 L561.6 1668.1 L577.3 1664.2 L593.1 1660.7 L608.9 1657.1 L624.7 1653.9 L640.5 1650.8 L656.2 1647.6 L680.0 1643.0 L707.6 1640.8 L735.2 1639.7 L762.8 1639.0 L790.5 1638.3 L820.0 1637.6 L854.4 1635.6 L898.8 1635.0 L943.1 1635.0" fill="none" stroke="#008000" stroke-width="5.90" stroke-linecap="butt" stroke-linejoin="round"/>
<path d="M196.0 2284.3 L210.2 2282.4 L225.0 2281.2 L239.8 2280.7 L254.0 2278.3 L268.4 2277.0 L282.6 2276.4 L298.0 2276.2 L305.0 2275.0 L309.8 2271.7 L319.3 2261.0 L325.2 2248.0 L331.1 2233.8 L334.0 2212.0 L335.5 2195.0 L336.4 2183.0 L339.4 2154.0 L341.8 2125.6 L345.3 2096.6 L347.6 2067.4 L350.0 2038.7 L352.4 2010.3 L354.1 1981.3 L357.6 1952.3 L360.6 1923.1 L363.6 1894.4 L367.1 1865.1 L370.7 1842.0 L375.0 1824.5 L380.6 1810.5 L394.2 1786.2 L416.0 1765.5 L437.3 1745.0 L461.8 1728.4 L487.6 1712.6 L514.7 1699.2 L540.0 1688.8 L569.5 1678.7 L598.2 1671.7 L626.3 1666.1 L654.7 1661.8 L684.0 1657.5 L713.1 1654.3 L742.1 1652.3 L769.7 1651.6 L800.1 1649.5 L829.2 1649.3 L858.1 1649.3 L887.3 1649.0 L916.9 1648.3 L937.2 1648.0" fill="none" stroke="#000000" stroke-width="6.00" stroke-linecap="butt" stroke-linejoin="miter" stroke-dasharray="15.8 13.2"/>
<path d="M144.5 2195.4 L151.0 2209.0 L161.7 2232.7 L171.1 2255.2 L178.8 2271.8 L191.3 2271.2 L209.0 2268.8 L220.8 2262.3 L235.0 2256.4 L247.1 2251.5 L251.5 2242.0 L253.2 2225.0 L254.8 2207.8 L256.6 2190.0 L257.2 2180.6 L260.1 2151.0 L263.1 2115.5 L266.3 2080.0 L267.8 2060.6 L270.7 2036.9 L273.1 2013.3 L276.0 1989.6 L278.4 1960.0 L280.7 1940.6 L283.1 1916.9 L284.9 1893.3 L286.6 1879.1 L290.8 1864.9 L297.9 1851.0 L306.0 1833.0 L314.3 1815.2 L325.0 1797.5 L335.6 1782.1 L347.5 1767.9 L360.5 1753.7 L373.5 1741.8 L390.0 1726.8 L405.8 1715.0 L421.6 1704.7 L431.8 1697.0 L443.7 1689.5 L455.5 1683.6 L467.3 1678.4 L479.2 1674.3 L491.0 1670.2 L502.8 1666.6 L514.7 1663.1 L526.5 1660.0 L540.0 1657.8 L561.6 1653.1 L593.1 1648.4 L624.7 1643.7 L656.2 1637.4 L680.0 1633.6 L707.6 1630.9 L735.2 1630.2 L762.8 1629.5 L790.5 1628.1 L820.0 1627.4 L839.6 1626.8 L876.6 1624.6 L891.4 1625.4 L913.6 1626.1 L941.7 1624.6" fill="none" stroke="#ff0000" stroke-width="6.00" stroke-linecap="butt" stroke-linejoin="round"/>
<path d="M148.0 2279.0 L192.0 2279.0 L219.7 2274.7 L228.0 2269.0 L247.5 2278.3 L255.2 2267.5 L257.8 2251.5 L260.1 2230.0 L261.9 2201.0 L262.5 2196.0 L264.9 2172.6 L267.5 2143.0 L270.2 2114.6 L272.5 2087.0 L275.4 2056.5 L278.4 2027.8 L281.4 1999.4 L284.9 1970.7 L287.8 1941.2 L291.4 1912.5 L295.5 1883.8 L299.6 1862.5 L304.0 1851.0 L313.1 1830.6 L326.7 1804.6 L342.7 1780.9 L361.1 1759.0 L383.3 1740.0 L405.4 1720.8 L430.0 1704.6 L456.7 1692.7 L484.5 1682.0 L512.9 1674.9 L540.0 1669.0 L569.8 1662.2 L598.6 1657.9 L627.0 1653.1 L656.2 1649.2 L680.0 1644.9 L707.6 1641.4 L735.2 1640.1 L762.8 1639.4 L790.5 1638.7 L820.0 1638.0 L854.4 1636.0 L898.8 1635.3 L943.1 1635.3" fill="none" stroke="#0000ff" stroke-width="6.00" stroke-linecap="butt" stroke-linejoin="miter" stroke-dasharray="15.8 13.2"/>
<text x="94.36" y="1673.92" font-size="26.50" textLength="20.75" lengthAdjust="spacingAndGlyphs">-5</text>
<text x="55.37" y="1689.62" font-size="38.50" textLength="37.54" lengthAdjust="spacingAndGlyphs">10</text>
<text x="94.06" y="1781.80" font-size="26.50" textLength="20.75" lengthAdjust="spacingAndGlyphs">-7</text>
<text x="55.06" y="1797.50" font-size="38.50" textLength="37.54" lengthAdjust="spacingAndGlyphs">10</text>
<text x="94.35" y="1889.68" font-size="26.50" textLength="20.75" lengthAdjust="spacingAndGlyphs">-9</text>
<text x="55.35" y="1905.38" font-size="38.50" textLength="37.54" lengthAdjust="spacingAndGlyphs">10</text>
<text x="82.28" y="1997.56" font-size="26.50" textLength="33.21" lengthAdjust="spacingAndGlyphs">-11</text>
<text x="43.29" y="2013.26" font-size="38.50" textLength="37.54" lengthAdjust="spacingAndGlyphs">10</text>
<text x="81.85" y="2105.44" font-size="26.50" textLength="33.21" lengthAdjust="spacingAndGlyphs">-13</text>
<text x="42.85" y="2121.14" font-size="38.50" textLength="37.54" lengthAdjust="spacingAndGlyphs">10</text>
<text x="81.91" y="2213.32" font-size="26.50" textLength="33.21" lengthAdjust="spacingAndGlyphs">-15</text>
<text x="42.91" y="2229.02" font-size="38.50" textLength="37.54" lengthAdjust="spacingAndGlyphs">10</text>
<text x="81.60" y="2321.20" font-size="26.50" textLength="33.21" lengthAdjust="spacingAndGlyphs">-17</text>
<text x="42.61" y="2336.90" font-size="38.50" textLength="37.54" lengthAdjust="spacingAndGlyphs">10</text>
<text x="186.98" y="2376.00" font-size="40.00">0.0</text>
<text x="331.84" y="2376.00" font-size="40.00">0.2</text>
<text x="476.11" y="2376.00" font-size="40.00">0.4</text>
<text x="621.08" y="2376.00" font-size="40.00">0.6</text>
<text x="765.92" y="2376.00" font-size="40.00">0.8</text>
<text x="909.94" y="2376.00" font-size="40.00">1.0</text>
<g transform="translate(30.10 2111.20) rotate(-90) scale(1.0020 1)">
<text x="-0.73" y="0" font-size="43.00">Log(I</text>
<text x="102.00" y="10.50" font-size="27.00">D</text>
<text x="121.50" y="0" font-size="43.00">(A/μm))</text>
</g>
<text x="505.12" y="2411.20" font-size="41.00" textLength="30.65" lengthAdjust="spacingAndGlyphs">V</text>
<text x="535.83" y="2421.00" font-size="25.50" textLength="40.04" lengthAdjust="spacingAndGlyphs">GS</text>
<text x="574.09" y="2411.20" font-size="41.00" textLength="60.43" lengthAdjust="spacingAndGlyphs">(V)</text>
<text x="148.73" y="1677.50" font-size="56.00" textLength="64.83" lengthAdjust="spacingAndGlyphs">(c)</text>
<text x="622.39" y="1769.60" font-size="40.00" textLength="26.52" lengthAdjust="spacingAndGlyphs">V</text>
<text x="648.92" y="1778.20" font-size="28.00" textLength="35.26" lengthAdjust="spacingAndGlyphs">DS</text>
<text x="686.36" y="1769.60" font-size="40.00" textLength="29.05" lengthAdjust="spacingAndGlyphs">=</text>
<text x="721.90" y="1769.60" font-size="39.50" textLength="77.85" lengthAdjust="spacingAndGlyphs">0.6V</text>
<text x="593.12" y="1835.60" font-size="40.00" textLength="317.51" lengthAdjust="spacingAndGlyphs">Model: Dotted line</text>
<text x="593.24" y="1893.60" font-size="38.00" textLength="277.69" lengthAdjust="spacingAndGlyphs">TCAD: Thick line</text>
<line x1="476.6" y1="1984.0" x2="551.1" y2="1984.0" stroke="#ff0000" stroke-width="6.20"/>
<line x1="475.4" y1="2031.7" x2="549.9" y2="2031.7" stroke="#0000ff" stroke-width="6.20" stroke-dasharray="16.6 13"/>
<line x1="475.4" y1="2078.3" x2="550.0" y2="2078.3" stroke="#008000" stroke-width="6.20"/>
<line x1="474.5" y1="2123.8" x2="549.5" y2="2123.8" stroke="#000" stroke-width="6.20" stroke-dasharray="16.6 13"/>
<path d="M557.8 1969.5 Q561.8 1969.5 561.8 1973.5 L561.8 2044.8 Q561.8 2048.8 557.8 2048.8 M561.8 2009.2 L581.9 2009.2" fill="none" stroke="#000" stroke-width="4.50" stroke-linecap="butt"/>
<path d="M556.8 2064.1 Q560.8 2064.1 560.8 2068.1 L560.8 2139.4 Q560.8 2143.4 556.8 2143.4 M560.8 2103.2 L580.7 2103.2" fill="none" stroke="#000" stroke-width="4.50" stroke-linecap="butt"/>
<text x="591.57" y="2019.50" font-size="40.00">S</text>
<text x="614.49" y="2027.80" font-size="21.00" textLength="20.92" lengthAdjust="spacingAndGlyphs">D</text>
<text x="632.58" y="2019.50" font-size="40.00" textLength="41.21" lengthAdjust="spacingAndGlyphs">=1</text>
<text x="676.76" y="2018.50" font-size="40.00" textLength="22.57" lengthAdjust="spacingAndGlyphs">×</text>
<text x="699.59" y="2019.50" font-size="38.50" textLength="36.29" lengthAdjust="spacingAndGlyphs">10</text>
<text x="737.57" y="2007.20" font-size="26.00" textLength="26.96" lengthAdjust="spacingAndGlyphs">20</text>
<text x="775.67" y="2019.50" font-size="38.50" textLength="49.59" lengthAdjust="spacingAndGlyphs">cm</text>
<text x="825.71" y="2008.00" font-size="26.00" textLength="22.62" lengthAdjust="spacingAndGlyphs">-3</text>
<text x="591.57" y="2114.00" font-size="40.00">S</text>
<text x="614.49" y="2122.30" font-size="21.00" textLength="20.92" lengthAdjust="spacingAndGlyphs">D</text>
<text x="632.58" y="2114.00" font-size="40.00" textLength="41.21" lengthAdjust="spacingAndGlyphs">=1</text>
<text x="676.76" y="2113.00" font-size="40.00" textLength="22.57" lengthAdjust="spacingAndGlyphs">×</text>
<text x="699.59" y="2114.00" font-size="38.50" textLength="36.29" lengthAdjust="spacingAndGlyphs">10</text>
<text x="736.45" y="2101.70" font-size="26.00" textLength="28.06" lengthAdjust="spacingAndGlyphs">19</text>
<text x="775.67" y="2114.00" font-size="38.50" textLength="49.59" lengthAdjust="spacingAndGlyphs">cm</text>
<text x="825.71" y="2102.50" font-size="26.00" textLength="22.62" lengthAdjust="spacingAndGlyphs">-3</text>
</svg>
</body></html>
